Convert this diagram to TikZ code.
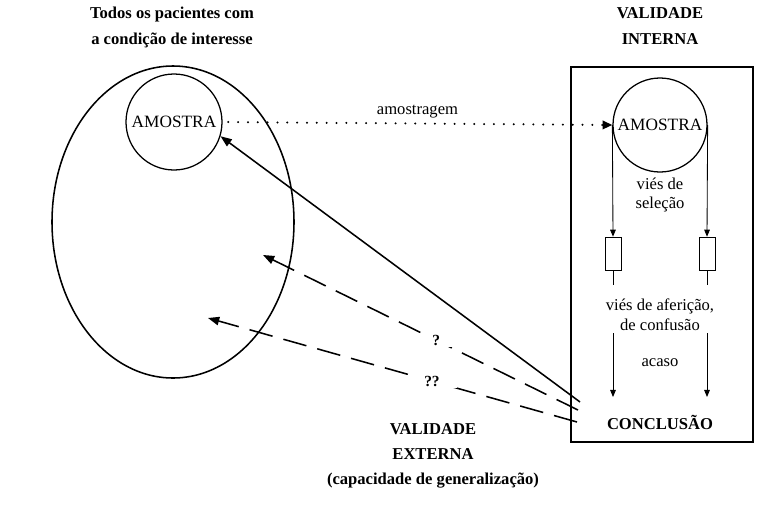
\documentclass[tikz,border=0pt]{standalone}
\usepackage{fontspec}
\setmainfont{Liberation Serif}
\usetikzlibrary{positioning, arrows.meta, calc}

\tikzset{
  head/.style={font=\bfseries\fontsize{11.8}{18}\selectfont, align=center},
  txt/.style={font=\fontsize{11.8}{14}\selectfont, align=center},
  bigtip/.style={-{Triangle[length=8pt, width=6pt]}},
  smalltip/.style={-{Triangle[length=5pt, width=4pt]}},
  guess/.style={line width=1.1pt, dash pattern=on 17pt off 8pt, bigtip},
  gap/.style={fill=white, inner ysep=1pt, font=\bfseries\fontsize{11}{13}\selectfont},
  sample/.style={draw, circle, line width=0.9pt, inner sep=0pt, font=\fontsize{12.3}{14}\selectfont},
  filter/.style={draw, line width=0.7pt, minimum width=0.4cm, minimum height=0.82cm, inner sep=0pt},
}

\begin{document}
\begin{tikzpicture}[scale=1.0]
    \useasboundingbox (0,0) rectangle (19.225,-13.125);

    % ;- Population (left) ;-
    \node[head] (pophead) at (4.3,-0.69) {Todos os pacientes com\\a condição de interesse};
    \draw[line width=1.1pt] (4.325,-5.55) ellipse (3.025 and 3.9);
    \node[sample, minimum size=2.4cm] (samp) at (4.35,-3.05) {AMOSTRA};

    % ;- Internal validity (right) ;-
    \node[head] (inthead) at (16.5,-0.65) {VALIDADE\\INTERNA};
    \draw[line width=1.1pt] (14.275,-1.675) rectangle (18.825,-11.05);
    \node[sample, minimum size=2.35cm] (sampin) at (16.5,-3.125) {AMOSTRA};

    % sampling (dotted)
    \draw[line width=1.6pt, line cap=round, dash pattern=on 0pt off 7pt,
          -{Triangle[length=7pt, width=6pt]}, shorten <=4pt]
        (samp.east) -- (sampin.west) node[midway, above, txt] {amostragem};

    % selection bias down to the two filters
    \node[filter] (boxl) at (15.325,-6.34) {};
    \node[filter] (boxr) at (17.675,-6.34) {};
    \draw[line width=0.6pt, smalltip] (sampin.west) -- (boxl.north);
    \draw[line width=0.6pt, smalltip] (sampin.east) -- (boxr.north);
    \node[txt] (selbias) at (16.5,-4.875) {viés de\\seleção};

    % stubs below the filters
    \coordinate (stubl) at (15.325,-7.125);
    \coordinate (stubr) at (17.675,-7.125);
    \draw[line width=0.6pt] (boxl.south) -- (stubl);
    \draw[line width=0.6pt] (boxr.south) -- (stubr);
    \node[txt] (measbias) at (16.5,-7.875) {viés de aferição,\\de confusão};

    % chance arrows to the conclusion
    \coordinate (accl) at (15.325,-8.325);
    \coordinate (accr) at (17.675,-8.325);
    \coordinate (endl) at (15.325,-9.925);
    \coordinate (endr) at (17.675,-9.925);
    \draw[line width=0.6pt, smalltip] (accl) -- (endl);
    \draw[line width=0.6pt, smalltip] (accr) -- (endr);
    \node[txt] (chance) at (16.5,-9.075) {acaso};
    \node[font=\bfseries\fontsize{11.8}{14}\selectfont] (concl) at (16.5,-10.55) {CONCLUSÃO};

    % ;- External validity ;-
    \coordinate (soltail) at (14.5,-10.05);
    \coordinate (qtail) at (14.45,-10.25);
    \coordinate (qtip) at (6.575,-6.375);
    \coordinate (qqtail) at (14.425,-10.55);
    \coordinate (qqtip) at (5.2,-7.95);
    \draw[line width=1.1pt, bigtip] (soltail) -- (samp.-17);
    \draw[guess] (qtail) -- (qtip) node[gap, inner xsep=14pt, pos=0.45] {?};
    \draw[guess] (qqtail) -- (qqtip) node[gap, inner xsep=12pt, pos=0.393] {??};
    \node[head] (exthead) at (10.825,-11.4) {VALIDADE\\EXTERNA\\(capacidade de generalização)};

\end{tikzpicture}
\end{document}
